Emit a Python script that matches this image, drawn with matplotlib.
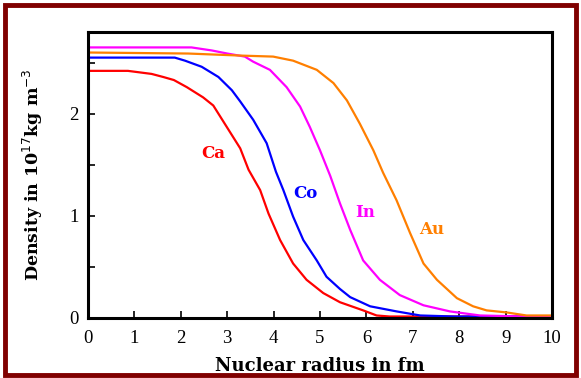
import matplotlib
matplotlib.use("Agg")
import matplotlib.pyplot as plt
from matplotlib.patches import Rectangle

# curves (r in fm, density in 1e17 kg/m^3)
ca_r = [0, 0.86, 1.37, 1.62, 1.85, 2.13, 2.48, 2.70, 2.99, 3.28, 3.46, 3.71, 3.89, 4.14, 4.42,
        4.71, 5.07, 5.43, 5.93, 6.22, 6.5, 10]
ca_rho = [2.42, 2.42, 2.39, 2.36, 2.33, 2.26, 2.16, 2.08, 1.87, 1.66, 1.45, 1.25, 1.02, 0.76, 0.53,
          0.37, 0.24, 0.15, 0.07, 0.02, 0.01, 0.01]

co_r = [0, 1.87, 2.09, 2.45, 2.81, 3.10, 3.28, 3.56, 3.85, 4.05, 4.21, 4.42, 4.64, 4.93,
        5.14, 5.43, 5.65, 6.08, 6.65, 7.16, 7.9, 10]
co_rho = [2.55, 2.55, 2.52, 2.46, 2.36, 2.23, 2.12, 1.94, 1.71, 1.43, 1.25, 0.99, 0.76, 0.56,
          0.40, 0.28, 0.20, 0.11, 0.06, 0.02, 0.01, 0.01]

in_r = [0, 2.23, 2.67, 3.0, 3.38, 3.56, 3.92, 4.28, 4.57, 4.78, 5.0, 5.22, 5.43, 5.65,
        5.93, 6.29, 6.72, 7.23, 7.80, 8.45, 9.4, 10]
in_rho = [2.65, 2.65, 2.62, 2.59, 2.56, 2.51, 2.43, 2.26, 2.07, 1.87, 1.64, 1.39, 1.12, 0.86,
          0.56, 0.37, 0.22, 0.12, 0.06, 0.02, 0.01, 0.01]

au_r = [0, 2.16, 3.28, 3.99, 4.42, 4.93, 5.29, 5.58, 5.86, 6.15, 6.36, 6.65, 6.94, 7.23,
        7.52, 7.95, 8.30, 8.59, 9.02, 9.45, 10]
au_rho = [2.60, 2.59, 2.57, 2.56, 2.52, 2.43, 2.30, 2.13, 1.90, 1.64, 1.42, 1.15, 0.83, 0.53,
          0.37, 0.19, 0.11, 0.07, 0.05, 0.02, 0.02]

names = ["Ca", "Co", "In", "Au"]
colors = ["#ff0000", "#0000ff", "#ff00ff", "#ff7f00"]
label_pos = [(2.69, 1.61), (4.68, 1.22), (5.97, 1.03), (7.41, 0.86)]

fig = plt.figure(figsize=(5.81, 3.78), dpi=100)
ax = fig.add_axes([0.1515, 0.160, 0.7986, 0.755])

curves = [(ca_r, ca_rho), (co_r, co_rho), (in_r, in_rho), (au_r, au_rho)]
for (r, rho), c in zip(curves, colors):
    ax.plot(r, rho, color=c, lw=1.6)

for name, c, (lx, ly) in zip(names, colors, label_pos):
    ax.text(lx, ly, name, color=c, fontsize=12, fontweight="bold",
            family="DejaVu Serif", ha="center", va="center")

ax.set_xlim(0, 10)
ax.set_ylim(0, 2.8)
ax.set_xticks(range(0, 11))
ax.set_yticks([0, 1, 2])
ax.set_yticks([0.5, 1.5, 2.5], minor=True)
ax.tick_params(direction="in", length=5, width=1.2, labelsize=13.5, pad=7)
ax.tick_params(axis="x", pad=9)
ax.tick_params(which="minor", direction="in", length=5, width=1.2)
for lab in ax.get_xticklabels() + ax.get_yticklabels():
    lab.set_family("Liberation Serif")
for s in ax.spines.values():
    s.set_linewidth(2.2)

ax.set_xlabel("Nuclear radius in fm", fontsize=13, fontweight="bold",
              family="DejaVu Serif", labelpad=7)
ax.set_ylabel("Density in 10$^{17}$kg m$^{-3}$", fontsize=12.5, fontweight="bold",
              family="DejaVu Serif", labelpad=17)

# dark red frame round the picture
fig.patches.append(Rectangle((0.009, 0.008), 0.982, 0.978, transform=fig.transFigure,
                             fill=False, edgecolor="#800000", lw=3.5))

fig.savefig("out.png", dpi=100)
